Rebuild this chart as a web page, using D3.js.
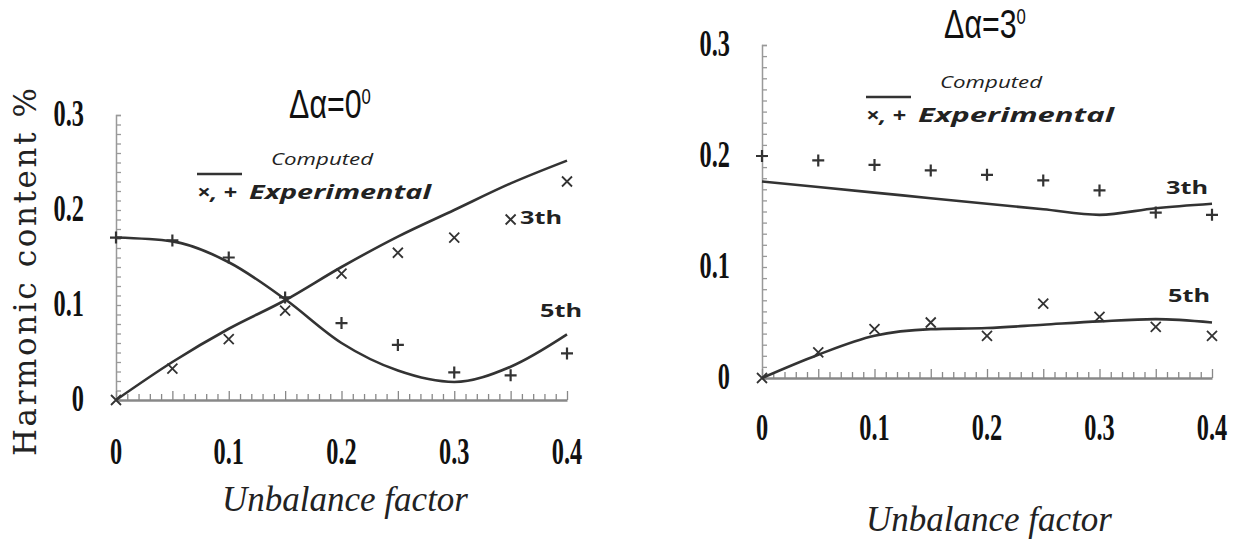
<!DOCTYPE html>
<html>
<head>
<meta charset="utf-8">
<script src="https://cdn.jsdelivr.net/npm/d3@7"></script>
<style>
  body { margin: 0; background: #fff; }
  svg { display: block; }
</style>
</head>
<body>
<div id="chart"></div>
<script>
// unbalance factor values (x) shared by both panels
var factors = [0, 0.05, 0.1, 0.15, 0.2, 0.25, 0.3, 0.35, 0.4];
var xTicks = [0, 0.1, 0.2, 0.3, 0.4];
var yTicks = [0, 0.1, 0.2, 0.3];

// left panel, delta alpha = 0
var left3Computed = [0, 0.04, 0.075, 0.105, 0.14, 0.172, 0.2, 0.228, 0.252];
var left3Exp      = [0, 0.033, 0.064, 0.094, 0.133, 0.155, 0.171, 0.19, 0.23];
var left5Computed = [0.171, 0.167, 0.145, 0.106, 0.06, 0.031, 0.019, 0.035, 0.069];
var left5Exp      = [0.171, 0.168, 0.15, 0.108, 0.081, 0.058, 0.029, 0.026, 0.049];

// right panel, delta alpha = 3
var right3Computed = [0.177, 0.172, 0.167, 0.162, 0.157, 0.152, 0.147, 0.153, 0.157];
var right3Exp      = [0.2, 0.196, 0.192, 0.187, 0.183, 0.178, 0.169, 0.149, 0.147];
var right5Computed = [0, 0.021, 0.038, 0.044, 0.045, 0.048, 0.051, 0.053, 0.05];
var right5Exp      = [0, 0.023, 0.044, 0.05, 0.038, 0.067, 0.055, 0.046, 0.038];

var W = 1233, H = 541;
var ink = "#333";

var svg = d3.select("#chart").append("svg")
  .attr("width", W)
  .attr("height", H);

svg.append("rect").attr("width", W).attr("height", H).attr("fill", "#fff");

// y axis title (left only)
svg.append("text")
  .attr("transform", "translate(36,272) rotate(-90)")
  .attr("text-anchor", "middle")
  .style("font-family", "DejaVu Serif")
  .style("font-size", "31px")
  .attr("fill", "#222")
  .attr("textLength", 368)
  .text("Harmonic content %");

function drawPanel(p) {
  var x = d3.scaleLinear().domain([0, 0.4]).range([p.x0, p.x1]);
  var y = d3.scaleLinear().domain([0, 0.3]).range([p.y0, p.y1]);
  var g = svg.append("g");

  // minor ticks on y axis (inside, to the right)
  g.append("g")
    .attr("transform", "translate(" + p.x0 + ",0)")
    .call(d3.axisRight(y).tickValues(d3.range(0, 0.301, 0.01)).tickSize(5).tickFormat(""))
    .call(function(a) {
      a.select(".domain").attr("stroke", "#999").attr("stroke-width", 1.5);
      a.selectAll(".tick line").attr("stroke", "#999").attr("stroke-width", 1.3);
    });

  // x axis with ticks pointing up
  g.append("g")
    .attr("transform", "translate(0," + p.y0 + ")")
    .call(d3.axisTop(x).tickValues(d3.range(0, 0.401, 0.01)).tickSizeOuter(0).tickFormat(""))
    .call(function(a) {
      a.select(".domain").attr("stroke", "#888").attr("stroke-width", 2.5);
      a.selectAll(".tick line")
        .attr("stroke", "#888")
        .attr("stroke-width", 1.3)
        .attr("y2", function(d) { return Math.round(d * 100) % 5 === 0 ? -9 : -6; });
    });

  // tick labels: bold condensed serif
  g.selectAll(".ylab")
    .data(yTicks)
    .enter().append("text")
    .attr("transform", function(d) { return "translate(" + (p.x0 - 32) + "," + (y(d) + 11) + ") scale(0.64,1)"; })
    .attr("text-anchor", "end")
    .style("font-family", "Liberation Serif")
    .style("font-weight", "bold")
    .style("font-size", "38px")
    .attr("fill", "#111")
    .text(function(d) { return d === 0 ? "0" : d3.format(".1f")(d); });

  g.selectAll(".xlab")
    .data(xTicks)
    .enter().append("text")
    .attr("transform", function(d) { return "translate(" + x(d) + "," + (p.y0 + p.xlabDy) + ") scale(0.64,1)"; })
    .attr("text-anchor", "middle")
    .style("font-family", "Liberation Serif")
    .style("font-weight", "bold")
    .style("font-size", "38px")
    .attr("fill", "#111")
    .text(function(d) { return d === 0 ? "0" : d3.format(".1f")(d); });

  // x axis title
  g.append("text")
    .attr("x", p.xTitleX)
    .attr("y", p.xTitleY)
    .attr("text-anchor", "middle")
    .style("font-family", "Liberation Serif")
    .style("font-style", "italic")
    .style("font-size", "35px")
    .attr("fill", "#222")
    .attr("textLength", 246)
    .attr("lengthAdjust", "spacingAndGlyphs")
    .text("Unbalance factor");

  // panel title
  var t = g.append("text")
    .attr("transform", "translate(" + p.titleX + "," + p.titleY + ") scale(0.76,1)")
    .attr("text-anchor", "middle")
    .style("font-family", "Liberation Sans")
    .style("font-size", "40px")
    .attr("fill", "#111");
  t.append("tspan").text(p.title);
  t.append("tspan").attr("dy", -14).style("font-size", "22px").text("0");

  // computed lines
  var line = d3.line()
    .x(function(d, i) { return x(factors[i]); })
    .y(function(d) { return y(d); })
    .curve(p.curve);

  p.computed.forEach(function(s) {
    g.append("path")
      .datum(s)
      .attr("d", line)
      .attr("fill", "none")
      .attr("stroke", ink)
      .attr("stroke-width", 2.6);
  });

  // experimental markers
  var crossPath = "M-5,-5L5,5M-5,5L5,-5";
  var plusPath = "M-6,0L6,0M0,-6L0,6";
  g.selectAll(".xm")
    .data(p.expX)
    .enter().append("path")
    .attr("d", crossPath)
    .attr("transform", function(d, i) { return "translate(" + x(factors[i]) + "," + y(d) + ")"; })
    .attr("stroke", ink)
    .attr("stroke-width", 1.8);
  g.selectAll(".pm")
    .data(p.expP)
    .enter().append("path")
    .attr("d", plusPath)
    .attr("transform", function(d, i) { return "translate(" + x(factors[i]) + "," + y(d) + ")"; })
    .attr("stroke", ink)
    .attr("stroke-width", 2.2);

  // legend
  var L = p.legend;
  g.append("line")
    .attr("x1", L.x).attr("x2", L.x + 45)
    .attr("y1", L.y).attr("y2", L.y)
    .attr("stroke", ink).attr("stroke-width", 2.6);
  g.append("text")
    .attr("x", L.x + 74).attr("y", L.y - 9)
    .style("font-family", "Open Sans")
    .style("font-style", "italic")
    .style("font-size", "17px")
    .attr("fill", "#222")
    .attr("textLength", 102)
    .attr("lengthAdjust", "spacingAndGlyphs")
    .text("Computed");
  g.append("text")
    .attr("x", L.x).attr("y", L.y + 25)
    .style("font-family", "Open Sans")
    .style("font-style", "italic")
    .style("font-weight", "bold")
    .style("font-size", "19px")
    .attr("fill", "#222")
    .attr("textLength", 40)
    .attr("lengthAdjust", "spacingAndGlyphs")
    .text("×, +");
  g.append("text")
    .attr("x", L.x + 52).attr("y", L.y + 25)
    .style("font-family", "Open Sans")
    .style("font-style", "italic")
    .style("font-weight", "bold")
    .style("font-size", "20px")
    .attr("fill", "#222")
    .attr("textLength", L.expLen)
    .attr("lengthAdjust", "spacingAndGlyphs")
    .text("Experimental");

  // harmonic labels
  p.labels.forEach(function(l) {
    g.append("text")
      .attr("x", l.x).attr("y", l.y)
      .style("font-family", "Open Sans")
      .style("font-weight", "bold")
      .style("font-size", "18px")
      .attr("fill", "#222")
      .attr("textLength", 42)
      .attr("lengthAdjust", "spacingAndGlyphs")
      .text(l.text);
  });
}

drawPanel({
  x0: 116, x1: 567, y0: 400, y1: 115,
  xlabDy: 64, xTitleX: 345, xTitleY: 511, titleX: 330, titleY: 118,
  title: "Δα=0",
  curve: d3.curveMonotoneX,
  computed: [left3Computed, left5Computed],
  expX: left3Exp, expP: left5Exp,
  legend: { x: 197, y: 174, expLen: 182 },
  labels: [{ x: 520, y: 224, text: "3th" }, { x: 540, y: 317, text: "5th" }]
});

drawPanel({
  x0: 762, x1: 1212, y0: 378, y1: 45,
  xlabDy: 62, xTitleX: 989, xTitleY: 531, titleX: 985, titleY: 38,
  title: "Δα=3",
  curve: d3.curveMonotoneX,
  computed: [right3Computed, right5Computed],
  expX: right5Exp, expP: right3Exp,
  legend: { x: 866, y: 97, expLen: 196 },
  labels: [{ x: 1166, y: 194, text: "3th" }, { x: 1168, y: 302, text: "5th" }]
});
</script>
</body>
</html>
